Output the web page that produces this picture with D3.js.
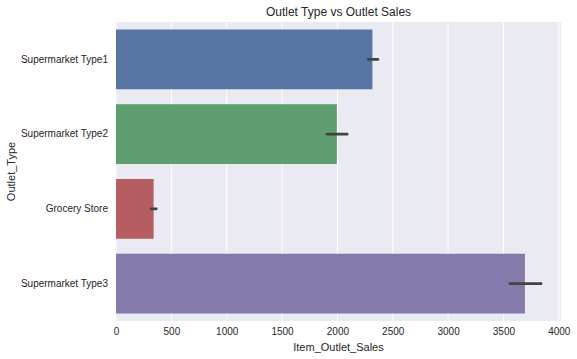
<!DOCTYPE html>
<html>
<head>
<meta charset="utf-8">
<script src="https://cdn.jsdelivr.net/npm/d3@7"></script>
<style>
  body { margin: 0; background: #fff; }
  text { font-family: "Liberation Sans", Arial, sans-serif; fill: #262626; }
</style>
</head>
<body>
<svg id="chart" width="577" height="359"></svg>
<script>
// data
var categories = ["Supermarket Type1", "Supermarket Type2", "Grocery Store", "Supermarket Type3"];
var meanSales = [2316, 1995, 340, 3694];
var ciLow = [2278, 1908, 318, 3558];
var ciHigh = [2366, 2088, 364, 3840];
var xTicks = [0, 500, 1000, 1500, 2000, 2500, 3000, 3500, 4000];
var colors = ["#5975a4", "#5f9e6e", "#b55d60", "#857aab"];

var margin = {top: 22, right: 16, bottom: 38, left: 116};
var width = 577, height = 359;

var svg = d3.select("#chart");

var x = d3.scaleLinear()
    .domain([0, 4020])
    .range([margin.left, width - margin.right]);

var y = d3.scaleBand()
    .domain(categories)
    .range([margin.top, height - margin.bottom])
    .paddingInner(0.2)
    .paddingOuter(0.1);

// background
svg.append("rect")
    .attr("x", margin.left)
    .attr("y", margin.top)
    .attr("width", width - margin.right - margin.left)
    .attr("height", height - margin.bottom - margin.top)
    .attr("fill", "#eaeaf2");

// vertical grid
svg.append("g")
    .selectAll("line")
    .data(xTicks)
    .enter()
    .append("line")
    .attr("x1", (d) => x(d))
    .attr("x2", (d) => x(d))
    .attr("y1", margin.top)
    .attr("y2", height - margin.bottom)
    .attr("stroke", "#fff")
    .attr("stroke-width", 1);

// bars
svg.append("g")
    .selectAll("rect")
    .data(categories)
    .enter()
    .append("rect")
    .attr("x", x(0))
    .attr("y", (d) => y(d))
    .attr("width", (d, i) => x(meanSales[i]) - x(0))
    .attr("height", y.bandwidth())
    .attr("fill", (d, i) => colors[i]);

// error bars
svg.append("g")
    .selectAll("line")
    .data(categories)
    .enter()
    .append("line")
    .attr("x1", (d, i) => x(ciLow[i]))
    .attr("x2", (d, i) => x(ciHigh[i]))
    .attr("y1", (d) => y(d) + y.bandwidth() / 2)
    .attr("y2", (d) => y(d) + y.bandwidth() / 2)
    .attr("stroke", "#424242")
    .attr("stroke-width", 2.7)
    .attr("stroke-linecap", "round");

// x axis
var xAxis = svg.append("g")
    .attr("transform", `translate(0, ${height - margin.bottom})`)
    .call(d3.axisBottom(x).tickValues(xTicks).tickFormat(d3.format("d")).tickSize(0).tickPadding(7));
xAxis.select(".domain").remove();
xAxis.selectAll("text").style("font-size", "10px").attr("fill", "#262626");

// y axis
var yAxis = svg.append("g")
    .attr("transform", `translate(${margin.left}, 0)`)
    .call(d3.axisLeft(y).tickSize(0).tickPadding(8));
yAxis.select(".domain").remove();
yAxis.selectAll("text").style("font-size", "10px").attr("fill", "#262626");

// labels
svg.append("text")
    .attr("x", (margin.left + width - margin.right) / 2)
    .attr("y", 16)
    .attr("text-anchor", "middle")
    .style("font-size", "12px")
    .text("Outlet Type vs Outlet Sales");

svg.append("text")
    .attr("x", (margin.left + width - margin.right) / 2)
    .attr("y", 351)
    .attr("text-anchor", "middle")
    .style("font-size", "11px")
    .text("Item_Outlet_Sales");

svg.append("text")
    .attr("transform", `translate(15, ${(margin.top + height - margin.bottom) / 2}) rotate(-90)`)
    .attr("text-anchor", "middle")
    .style("font-size", "11px")
    .text("Outlet_Type");
</script>
</body>
</html>
